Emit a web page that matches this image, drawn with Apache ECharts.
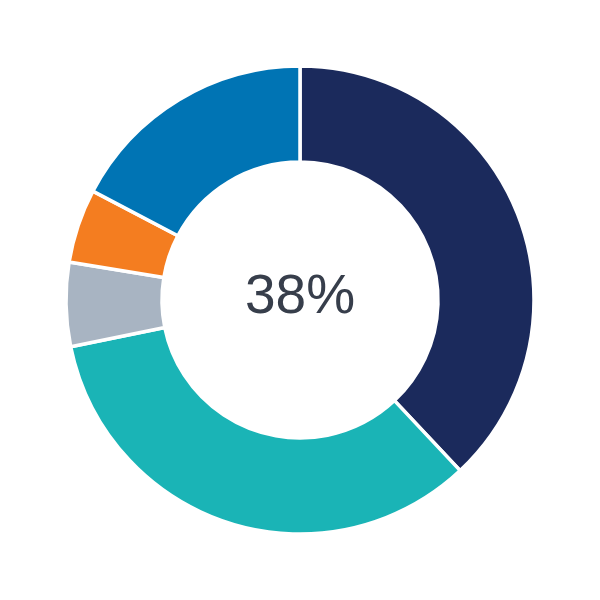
<!DOCTYPE html>
<html>
<head>
<meta charset="utf-8">
<script src="https://cdn.jsdelivr.net/npm/echarts@6/dist/echarts.min.js"></script>
<style>html,body{margin:0;padding:0;background:#fff;}#main{width:600px;height:600px;}</style>
</head>
<body>
<div id="main"></div>
<script>
var categories = ['Navy', 'Teal', 'Grey', 'Orange', 'Blue'];
var values = [38, 33.8, 5.8, 5.1, 17.3];
var colors = ['#1b2a5c', '#1ab4b6', '#a8b4c2', '#f47d20', '#0074b4'];
var centerLabel = '38%';

var chart = echarts.init(document.getElementById('main'), null, {renderer: 'canvas'});
chart.setOption({
  animation: false,
  backgroundColor: '#ffffff',
  title: {
    text: centerLabel,
    left: 'center',
    top: 265,
    textStyle: {
      fontFamily: 'Liberation Sans, Arial, sans-serif',
      fontSize: 55,
      fontWeight: 'normal',
      color: '#373e4b'
    }
  },
  series: [{
    type: 'pie',
    center: [300, 300],
    radius: [138, 234],
    startAngle: 90,
    clockwise: true,
    label: {show: false},
    labelLine: {show: false},
    emphasis: {disabled: true},
    itemStyle: {borderColor: '#ffffff', borderWidth: 3.5},
    data: categories.map(function (c, i) {
      return {name: c, value: values[i], itemStyle: {color: colors[i]}};
    })
  }]
});
</script>
</body>
</html>
